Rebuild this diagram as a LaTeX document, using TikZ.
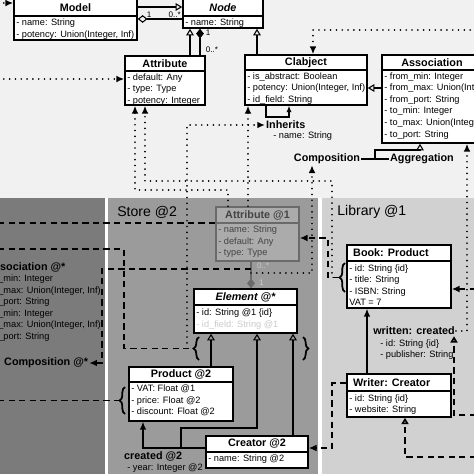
\documentclass[tikz,border=0pt]{standalone}
\usepackage{fontspec}
\setmainfont{Liberation Sans}
\usetikzlibrary{arrows.meta,fit,decorations.pathreplacing}
\definecolor{topbg}{HTML}{F1F1F1}
\definecolor{levelzero}{HTML}{7B7B7B}
\definecolor{leveltwo}{HTML}{9B9B9B}
\definecolor{levelone}{HTML}{D1D1D1}
\definecolor{ghostfill}{HTML}{ABABAB}
\definecolor{ghostline}{HTML}{6A6A6A}
\definecolor{ghosttext}{HTML}{444444}
\definecolor{faint}{HTML}{CACACA}
\def\attrfont{\fontsize{5.25}{6.6}\selectfont}
\def\namefont{\fontsize{6.15}{7.4}\selectfont\bfseries}
\def\levelfont{\fontsize{8}{9.6}\selectfont}
\def\multfont{\fontsize{4.6}{5.5}\selectfont}

\begin{document}
\begin{tikzpicture}[x=0.02cm, y=-0.02cm,
		classbox/.style={draw, fill=white, line width=0.9pt, inner sep=0pt},
		ghostbox/.style={draw=ghostline, fill=ghostfill, line width=0.9pt, inner sep=0pt},
		classname/.style={font=\namefont, inner sep=0.5pt},
		attrs/.style={font=\attrfont, align=left, anchor=north west, inner sep=0pt},
		levelname/.style={font=\levelfont, anchor=west, inner sep=0pt},
		mult/.style={font=\multfont, inner sep=0.5pt},
		conn/.style={line width=0.6pt},
		ling/.style={line width=1pt, dash pattern=on 0.01pt off 3.3pt, line cap=round},
		onto/.style={line width=0.8pt, dash pattern=on 3.6pt off 2.4pt},
		inst/.style={-{Latex[length=4.4pt,width=3.8pt]}},
		gen/.style={-{Triangle[open,length=3.8pt,width=4.4pt]}},
		ontogen/.style={-{Triangle[open,length=3.6pt,width=4pt,line width=1pt]}},
		bracket/.style={decorate, decoration={brace,amplitude=3pt}, line width=1pt}]
	%%%%% START %%%%%
	\useasboundingbox (0,0) rectangle (474,474);
	\clip (0,0) rectangle (474,474);
	\fill[white] (0,0) rectangle (474,474);
	\fill[topbg] (0,0) rectangle (474,198);
	\fill[levelzero] (0,198) rectangle (105,474);
	\fill[leveltwo] (108,198) rectangle (318,474);
	\fill[levelone] (322,198) rectangle (474,474);
	
	\node[levelname] (store) at (117,212) {Store @2};
	\node[levelname] (library) at (337,212) {Library @1};
	
	% linguistic metamodel
	\node[classbox, fit={(14,-1) (137,40)}] (model) {};
	\draw[line width=0.9pt] (model.west |- 0,16) -- (model.east |- 0,16);
	\node[classname] (model-n) at (75.5,7.5) {Model};
	\node[attrs] (model-a) at (16,18.5) {- name: String\\- potency: Union(Integer, Inf)};
	
	\node[classbox, fit={(183,-1) (263,28)}] (nodecls) {};
	\draw[line width=0.9pt] (nodecls.west |- 0,16) -- (nodecls.east |- 0,16);
	\node[classname] (nodecls-n) at (223,7.5) {\itshape Node};
	\node[attrs] (nodecls-a) at (185,18.5) {- name: String};
	
	\node[classbox, fit={(125,56) (205,105)}] (attribute) {};
	\draw[line width=0.9pt] (attribute.west |- 0,71) -- (attribute.east |- 0,71);
	\node[classname] (attribute-n) at (165,63.5) {Attribute};
	\node[attrs] (attribute-a) at (127,73) {- default: Any\\- type: Type\\- potency: Integer};
	
	\node[classbox, fit={(245,55) (367,105)}] (clabject) {};
	\draw[line width=0.9pt] (clabject.west |- 0,70) -- (clabject.east |- 0,70);
	\node[classname] (clabject-n) at (306,62.5) {Clabject};
	\node[attrs] (clabject-a) at (247,72) {- is\_abstract: Boolean\\- potency: Union(Integer, Inf)\\- id\_field: String};
	
	\node[classbox, fit={(382,55) (500,143)}] (association) {};
	\draw[line width=0.9pt] (association.west |- 0,70) -- (association.east |- 0,70);
	\node[classname] (association-n) at (432,62.5) {Association};
	\node[attrs] (association-a) at (384,72) {- from\_min: Integer\\- from\_max: Union(Integer, Inf)\\- from\_port: String\\- to\_min: Integer\\- to\_max: Union(Integer, Inf)\\- to\_port: String};
	
	\draw[conn, gen] (model.east |- 0,7) -- (nodecls.west |- 0,7);
	\draw[conn, {Diamond[open,length=5.5pt,width=4.4pt]}-] (model.east |- 0,19) -- (nodecls.west |- 0,19);
	\node[mult] (model-one) at (149,14.5) {1};
	\node[mult, anchor=east] (model-many) at (182,14.5) {0..*};
	\draw[conn, gen] (attribute.north -| 190,0) -- (nodecls.south -| 190,0);
	\draw[conn, {Diamond[length=5.5pt,width=4.4pt]}-] (nodecls.south -| 200,0) -- (attribute.north -| 200,0);
	\node[mult] (attr-one) at (208,33) {1};
	\node[mult] (attr-many) at (212,50) {0..*};
	\draw[conn, gen] (clabject.north -| 257,0) -- (nodecls.south -| 257,0);
	\draw[conn, gen] (association.west |- 0,88) -- (clabject.east |- 0,88);
	\draw[conn, -{Latex[length=3.6pt,width=3pt]}] (clabject.south -| 266,0) |- (289,117) -- (clabject.south -| 289,0);
	\node[classname, anchor=west] (inherits) at (265,125) {Inherits};
	\node[attrs] (inherits-a) at (273,131) {- name: String};
	
	\node[classname] (composition) at (327,159) {Composition};
	\node[classname] (aggregation) at (422,159) {Aggregation};
	\coordinate (joint) at (375,159);
	\draw[conn] (composition.east) -- (aggregation.west);
	\draw[conn, gen] (joint) |- (420,150) -- (association.south -| 420,0);
	
	% level 0 (cut)
	\node[classname, anchor=west] (assocstar) at (-1,267) {sociation @*};
	\node[attrs] (assocstar-a) at (-2,274.5) {\_min: Integer\\\_max: Union(Integer, Inf)\\\_port: String\\\_min: Integer\\\_max: Union(Integer, Inf)\\\_port: String};
	\node[classname, anchor=west] (compstar) at (3,363) {Composition @*};
	
	% Store @2
	\node[ghostbox, fit={(216,207) (299,261)}] (attrone) {};
	\draw[ghostline, line width=0.9pt] (attrone.west |- 0,223) -- (attrone.east |- 0,223);
	\node[classname, text=ghosttext] (attrone-n) at (257.5,215) {Attribute @1};
	\node[attrs, text=ghosttext] (attrone-a) at (218,225.5) {- name: String\\- default: Any\\- type: Type};
	
	\node[classbox, fit={(194,289) (297,333)}] (element) {};
	\draw[line width=0.9pt] (element.west |- 0,305) -- (element.east |- 0,305);
	\node[classname] (element-n) at (245.5,297) {\itshape Element @*};
	\node[attrs] (element-a) at (196,308.5) {- id: String @1 \{id\}\\\textcolor{faint}{- id\_field: String @1}};
	
	\node[classbox, fit={(129,367) (233,421)}] (product) {};
	\draw[line width=0.9pt] (product.west |- 0,382) -- (product.east |- 0,382);
	\node[classname] (product-n) at (181,374.5) {Product @2};
	\node[attrs] (product-a) at (131,384.5) {- VAT: Float @1\\- price: Float @2\\- discount: Float @2};
	
	\node[classbox, fit={(206,436) (308,468)}] (creator) {};
	\draw[line width=0.9pt] (creator.west |- 0,452) -- (creator.east |- 0,452);
	\node[classname] (creator-n) at (257,444) {Creator @2};
	\node[attrs] (creator-a) at (208,454.5) {- name: String @2};
	
	\draw[conn, ghostline, {Diamond[length=5.5pt,width=4.4pt]}-] (element.north -| 251,0) -- (attrone.south -| 251,0);
	\node[mult, text=faint, anchor=west] (elem-many) at (256,266) {0..*};
	\node[mult, text=faint, anchor=west] (elem-one) at (258,283) {1};
	\coordinate (cmpL) at (251,269);
	\coordinate (cmpR) at (251,273);
	
	\draw[conn, gen] (product.north -| 211,0) -- (element.south -| 211,0);
	\draw[conn, gen] (creator.north -| 293,0) -- (element.south -| 293,0);
	\coordinate (createdmid) at (181,448);
	\draw[conn, -{Latex[length=4.4pt,width=3.6pt]}] (creator.west |- 0,448) -| (product.south -| 143,0);
	\draw[conn, gen] (createdmid) |- (257,428) -- (element.south -| 257,0);
	\node[classname, anchor=west] (created) at (123,456) {created @2};
	\node[attrs] (created-a) at (127,463) {- year: Integer @2};
	
	\draw[bracket] (199,360) -- (199,337);
	\draw[bracket] (303,337) -- (303,360);
	\draw[bracket] (125,414) -- (125,387);
	\coordinate (elbr) at (193,348.5);
	\coordinate (prodbr) at (119,400.5);
	
	% Library @1
	\node[classbox, fit={(347,245) (451,308)}] (book) {};
	\draw[line width=0.9pt] (book.west |- 0,261) -- (book.east |- 0,261);
	\node[classname, anchor=west] (book-n) at (352,253) {Book: Product};
	\node[attrs] (book-a) at (349,264) {- id: String \{id\}\\- title: String\\- ISBN: String\\VAT = 7};
	
	\node[classbox, fit={(347,374) (451,417)}] (writer) {};
	\draw[line width=0.9pt] (writer.west |- 0,391) -- (writer.east |- 0,391);
	\node[classname, anchor=west] (writer-n) at (352,382.5) {Writer: Creator};
	\node[attrs] (writer-a) at (349,394) {- id: String \{id\}\\- website: String};
	
	\draw[conn, -{Latex[length=4.4pt,width=3.6pt]}] (writer.north -| 367,0) -- (book.south -| 367,0);
	\node[classname] (written) at (414,331) {written: created};
	\node[attrs] (written-a) at (380,339) {- id: String \{id\}\\- publisher: String};
	
	\draw[bracket] (345,292) -- (345,263);
	\coordinate (bookbr) at (339,277.5);
	
	% linguistic instance-of
	\draw[ling, inst] (-2,3) -- (model.west |- 0,3);
	\draw[ling, inst] (-2,79) -- (attribute.west |- 0,79);
	\draw[ling, inst] (476,30) -| (clabject.north -| 313,0);
	\draw[ling, inst] (attrone.north -| 228,0) |- (135,190) -- (attribute.south -| 135,0);
	\draw[ling, inst] (bookbr) -- (332,277.5) |- (145,181) -- (attribute.south -| 145,0);
	\draw[ling, inst] (attrone.north -| 248,0) -- (clabject.south -| 248,0);
	\draw[ling, inst] (elbr) -| (187,125) -- (inherits.west);
	\draw[ling, inst] (cmpR) -| (composition.south -| 312,0);
	\draw[ling, inst] (written.east) -| (association.south -| 467,0);
	
	% ontological instance-of
	\draw[onto] (-2,223) -- (attrone.west |- 0,223);
	\draw[onto] (-2,249) -| (124,348.5) -- (elbr);
	\draw[onto] (-2,400.5) -- (prodbr);
	\draw[onto, inst] (cmpL) -- (102,269) |- (compstar.east);
	\draw[onto, inst] (bookbr) -- (328,277.5) |- (attrone.east |- 0,238);
	\draw[onto, inst] (476,289) -- (book.east |- 0,289);
	\draw[onto, ontogen] (476,415) -| (written.south -| 454,0);
	\draw[onto, ontogen] (476,457) -| (writer.south -| 405,0);
	\draw[onto, inst] (writer.west |- 0,383) -- (332,383) |- (creator.east |- 0,448);
	%%%%% END %%%%%
\end{tikzpicture}
\end{document}
